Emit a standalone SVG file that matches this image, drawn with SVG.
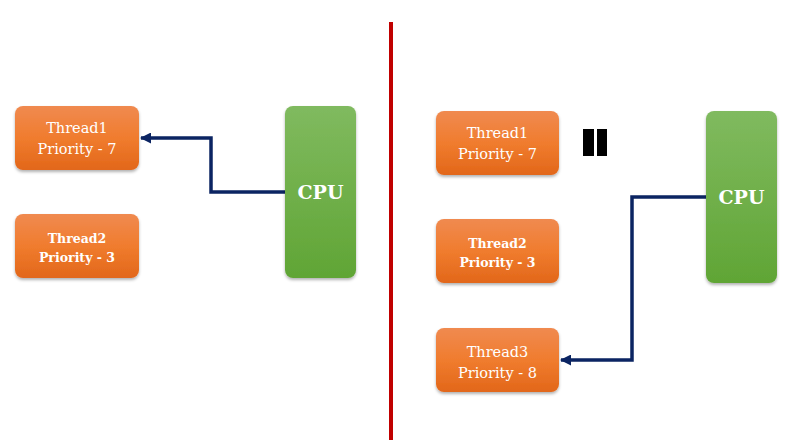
<svg xmlns="http://www.w3.org/2000/svg" width="792" height="448" viewBox="0 0 792 448">
<style>
.t{font-family:"DejaVu Serif","Liberation Serif",serif;fill:#fff;text-anchor:middle}
.big{font-size:14.5px}
.small{font-size:12.5px;font-weight:bold}
.cpu{font-family:"DejaVu Serif","Liberation Serif",serif;font-size:19px;font-weight:bold;fill:#fff;text-anchor:middle}
.conn{fill:none;stroke:#0B2462;stroke-width:3.5}
</style>
<defs>
<linearGradient id="og" x1="0" y1="0" x2="0" y2="1">
<stop offset="0" stop-color="#F08A50"/><stop offset="0.5" stop-color="#F07C2E"/><stop offset="1" stop-color="#E2671A"/>
</linearGradient>
<linearGradient id="gg" x1="0" y1="0" x2="0" y2="1">
<stop offset="0" stop-color="#80BA5F"/><stop offset="1" stop-color="#60A535"/>
</linearGradient>
<filter id="sh" x="-10%" y="-10%" width="120%" height="130%">
<feDropShadow dx="0" dy="2" stdDeviation="1.5" flood-color="#000" flood-opacity="0.3"/>
</filter>
<marker id="ah" markerWidth="11" markerHeight="11" refX="10" refY="5.5" orient="auto" markerUnits="userSpaceOnUse">
<path d="M0,0 L11,5.5 L0,11 Z" fill="#0B2462"/>
</marker>
</defs>
<rect x="389" y="22" width="4" height="418" fill="#C00000"/>
<g id="connectors">
<path class="conn" d="M285,192 H211 V138 H141" marker-end="url(#ah)"/>
<path class="conn" d="M706,197 H632 V360 H561" marker-end="url(#ah)"/>
</g>
<g id="left-thread1">
<rect x="15" y="106" width="124" height="64" rx="8" fill="url(#og)" filter="url(#sh)"/>
<text class="t big" x="77" y="133">Thread1</text>
<text class="t big" x="77" y="154">Priority - 7</text>
</g>
<g id="left-thread2">
<rect x="15" y="214" width="124" height="64" rx="8" fill="url(#og)" filter="url(#sh)"/>
<text class="t small" x="77" y="243">Thread2</text>
<text class="t small" x="77" y="262">Priority - 3</text>
</g>
<g id="left-cpu">
<rect x="285" y="106" width="71" height="172" rx="8" fill="url(#gg)" filter="url(#sh)"/>
<text class="cpu" x="320.5" y="199">CPU</text>
</g>
<g id="right-thread1">
<rect x="436" y="111" width="123" height="64" rx="8" fill="url(#og)" filter="url(#sh)"/>
<text class="t big" x="497.5" y="138">Thread1</text>
<text class="t big" x="497.5" y="159">Priority - 7</text>
</g>
<g id="pause">
<rect x="583" y="129" width="11" height="27" fill="#000"/>
<rect x="597" y="129" width="10" height="27" fill="#000"/>
</g>
<g id="right-thread2">
<rect x="436" y="219" width="123" height="64" rx="8" fill="url(#og)" filter="url(#sh)"/>
<text class="t small" x="497.5" y="248">Thread2</text>
<text class="t small" x="497.5" y="267">Priority - 3</text>
</g>
<g id="right-thread3">
<rect x="436" y="328" width="123" height="64" rx="8" fill="url(#og)" filter="url(#sh)"/>
<text class="t big" x="497.5" y="357">Thread3</text>
<text class="t big" x="497.5" y="378">Priority - 8</text>
</g>
<g id="right-cpu">
<rect x="706" y="111" width="71" height="172" rx="8" fill="url(#gg)" filter="url(#sh)"/>
<text class="cpu" x="741.5" y="204">CPU</text>
</g>
</svg>
